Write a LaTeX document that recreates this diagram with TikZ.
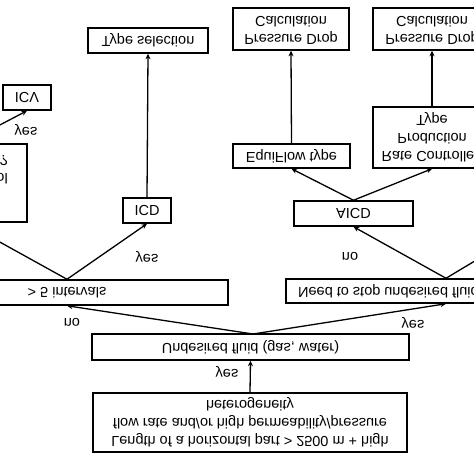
\documentclass[tikz,border=0pt]{standalone}
\usepackage{fontspec}
\setmainfont{Liberation Sans}
\usetikzlibrary{arrows.meta,calc}
\newcommand\vflip[1]{\scalebox{1}[-1]{#1}}
\tikzset{
  box/.style={draw,line width=1.5pt,inner sep=0pt,minimum width=#1},
  conn/.style={line width=1.3pt,-{Stealth[length=5.5pt,width=5pt]}},
  lbl/.style={inner sep=0pt},
}
\begin{document}
\begin{tikzpicture}[x=1pt,y=-1pt,font=\fontsize{14.5}{18}\selectfont]
\useasboundingbox (0,0) rectangle (474,474);
\clip (0,0) rectangle (474,474);
% boxes
\node[box=314pt,minimum height=59pt] (base) at (250,422.5)
  {\vflip{\begin{tabular}{@{}c@{}}Length of a horizontal part > 2500 m + high\\flow rate and/or high permeability/pressure\\heterogeneity\end{tabular}}};
\node[box=317pt,minimum height=26pt] (und) at (250.5,347) {\vflip{Undesired fluid (gas, water)}};
\node[box=322pt,minimum height=25pt] (five) at (67,292.5) {\vflip{> 5 intervals}};
\node[box=320pt,minimum height=24pt] (need) at (446,291) {};
\node[lbl,anchor=west] (needt) at (298,291) {\vflip{Need to stop undesired fluid}};
\node[box=48pt,minimum height=25pt] (icd) at (147,210.5) {\vflip{ICD}};
\node[box=120pt,minimum height=25pt] (tsel) at (148,40.5) {\vflip{Type selection}};
\node[box=124pt,minimum height=78pt] (leftq) at (-35,183) {};
\node[lbl,anchor=north east] (leftqt) at (8,150)
  {\vflip{\begin{tabular}{@{}r@{}}Zonal control\\required?\end{tabular}}};
\node[box=48pt,minimum height=25pt] (icv) at (27,97.5) {\vflip{ICV}};
\node[box=119pt,minimum height=25pt] (aicd) at (353.5,213.5) {\vflip{AICD}};
\node[box=117pt,minimum height=24pt] (equi) at (291.5,156) {\vflip{EquiFlow type}};
\node[box=118pt,minimum height=61pt] (rate) at (432,137.5)
  {\vflip{\begin{tabular}{@{}c@{}}Rate Controlled\\Production\\Type\end{tabular}}};
\node[box=116pt,minimum height=42pt] (pd1) at (291,29)
  {\vflip{\begin{tabular}{@{}c@{}}Pressure Drop\\Calculation\end{tabular}}};
\node[box=118pt,minimum height=42pt] (pd2) at (432,29)
  {\vflip{\begin{tabular}{@{}c@{}}Pressure Drop\\Calculation\end{tabular}}};
% coordinates
\coordinate (u0) at (253,334);
\coordinate (off) at (530,228);
% connectors
\draw[conn] (base.north) -- (und.south);
\draw[conn] (u0) -- (five.south);
\draw[conn] (u0) -- (need.south);
\draw[conn] (five.north) -- (icd.south);
\draw[conn] (five.north) -- (leftq.south);
\draw[conn] (icd.north) -- (tsel.south);
\draw[conn] (leftq.north) -- (icv.south);
\draw[conn] (need.north) -- (aicd.south);
\draw[conn] (need.north) -- (off);
\draw[conn] (aicd.north) -- (equi.south);
\draw[conn] (aicd.north) -- (rate.south);
\draw[conn] (equi.north) -- (pd1.south);
\draw[conn] (rate.north) -- (pd2.south);
% labels
\node[lbl] (l1) at (227,372) {\vflip{yes}};
\node[lbl] (l2) at (72,322) {\vflip{no}};
\node[lbl] (l3) at (413,323) {\vflip{yes}};
\node[lbl] (l4) at (147,257) {\vflip{yes}};
\node[lbl] (l5) at (26,130) {\vflip{yes}};
\node[lbl] (l6) at (350,256) {\vflip{no}};
\end{tikzpicture}
\end{document}
